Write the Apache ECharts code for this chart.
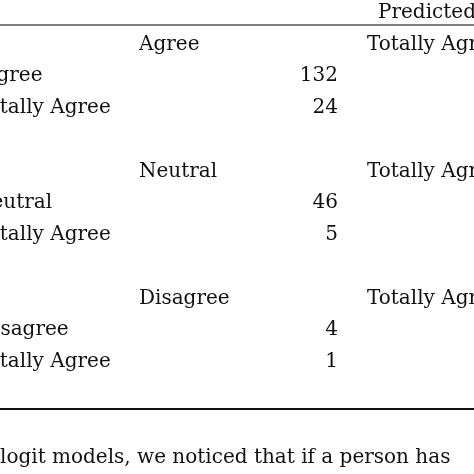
<!DOCTYPE html>
<html><head><meta charset="utf-8">
<script src="https://cdn.jsdelivr.net/npm/echarts@6/dist/echarts.min.js"></script>
<style>html,body{margin:0;background:#fff}#c{width:474px;height:474px}</style>
</head><body><div id="c"></div>
<script>
const groups = ["Agree", "Neutral", "Disagree"];
const rowLabels = [["Agree", "Totally Agree"], ["Neutral", "Totally Agree"], ["Disagree", "Totally Agree"]];
const counts = [[132, 24], [46, 5], [4, 1]];
const otherHeader = "Totally Agree";
const topHeader = "Predicted";
const footer = "logit models, we noticed that if a person has";

const F = "'DejaVu Serif', serif";
const fs = 20;
const els = [];
function txt(x, y, s, align) {
  els.push({type: 'text', x: x, y: y, style: {text: s, font: fs + 'px ' + F, fill: '#111', textAlign: align || 'left', textVerticalAlign: 'middle'}});
}
txt(378, 13, topHeader);
els.push({type: 'line', shape: {x1: 0, y1: 25, x2: 474, y2: 25}, style: {stroke: '#555', lineWidth: 1.5}});
groups.forEach((g, i) => {
  const y0 = 45 + i * 127;
  txt(139, y0, g);
  txt(367, y0, otherHeader);
  rowLabels[i].forEach((r, j) => {
    const y = y0 + 31 + j * 31.5;
    txt(j === 0 ? -18 - (i === 1 ? 8 : i === 2 ? 4 : 0) : -24, y, r);
    txt(338, y, String(counts[i][j]), 'right');
  });
});
els.push({type: 'line', shape: {x1: 0, y1: 409, x2: 474, y2: 409}, style: {stroke: '#111', lineWidth: 2}});
els.push({type: 'text', x: 0, y: 458, style: {text: footer, font: fs + 'px ' + F, fill: '#111', textVerticalAlign: 'middle'}});

const chart = echarts.init(document.getElementById('c'));
chart.setOption({animation: false, graphic: {elements: els}});
</script></body></html>
